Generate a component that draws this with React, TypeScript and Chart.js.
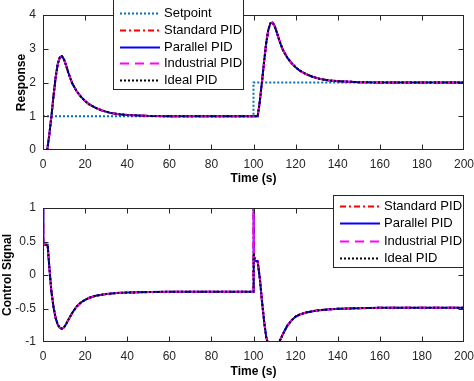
import React, { useEffect, useRef } from 'react';
import { Chart, registerables } from 'chart.js';

Chart.register(...registerables);

// ---------- data ----------
const timeTicks = [0, 20, 40, 60, 80, 100, 120, 140, 160, 180, 200];
const responseTicks = [0, 1, 2, 3, 4];
const controlTicks = [-1, -0.5, 0, 0.5, 1];

const setpointTime = [0, 100, 100, 200];
const setpointValues = [1, 1, 2, 2];

const respTime = [
  0, 2, 3, 4, 5, 6, 7, 8, 9, 10, 11, 12, 13, 14, 16, 18, 20, 22, 25, 28, 32, 36, 40, 50, 60, 80, 100,
  102, 103, 104, 105, 106, 107, 108, 109, 110, 111, 112, 113, 114, 116, 118, 120, 122, 125, 128, 132, 136, 140, 150, 160, 180, 200,
];
const respValues = [
  0, 0, 0.45, 1.0, 1.6, 2.15, 2.55, 2.75, 2.78, 2.68, 2.5, 2.3, 2.12, 1.96, 1.74, 1.58, 1.45, 1.35, 1.25, 1.17, 1.1, 1.06, 1.04, 1.01, 1.0, 1.0, 1.0,
  1.0, 1.45, 2.0, 2.6, 3.15, 3.55, 3.75, 3.78, 3.68, 3.5, 3.3, 3.12, 2.96, 2.74, 2.58, 2.45, 2.35, 2.25, 2.17, 2.1, 2.06, 2.04, 2.01, 2.0, 2.0, 2.0,
];

// control signal (Standard / Parallel / Industrial share the derivative kick)
const ctrlTime = [
  0, 0.2, 2.2, 3, 4, 5, 6, 7, 8, 9, 10, 11, 12, 14, 16, 18, 20, 22, 25, 30, 35, 40, 50, 60, 80, 100,
  100, 100.2, 102, 103, 104, 105, 106, 107, 108, 109, 110, 111, 112, 113, 114, 116, 118, 120, 122, 125, 130, 135, 140, 150, 160, 180, 200,
];
const ctrlValues = [
  1.2, 0.45, 0.45, 0.12, -0.25, -0.48, -0.64, -0.74, -0.79, -0.8, -0.78, -0.73, -0.67, -0.56, -0.47, -0.41, -0.37, -0.34, -0.31, -0.285, -0.27, -0.262, -0.255, -0.25, -0.25, -0.25,
  1.5, 0.22, 0.2, -0.05, -0.38, -0.68, -0.92, -1.04, -1.1, -1.12, -1.1, -1.06, -1.01, -0.95, -0.88, -0.76, -0.68, -0.62, -0.59, -0.56, -0.53, -0.515, -0.505, -0.495, -0.49, -0.49, -0.49,
];
const idealCtrlTime = [
  0, 0.05, 2.2, 3, 4, 5, 6, 7, 8, 9, 10, 11, 12, 14, 16, 18, 20, 22, 25, 30, 35, 40, 50, 60, 80, 100,
  100.05, 100.8, 102, 103, 104, 105, 106, 107, 108, 109, 110, 111, 112, 113, 114, 116, 118, 120, 122, 125, 130, 135, 140, 150, 160, 180, 200,
];
const idealCtrlValues = [
  0, 0.45, 0.45, 0.12, -0.25, -0.48, -0.64, -0.74, -0.79, -0.8, -0.78, -0.73, -0.67, -0.56, -0.47, -0.41, -0.37, -0.34, -0.31, -0.285, -0.27, -0.262, -0.255, -0.25, -0.25, -0.25,
  0.33, 0.24, 0.2, -0.05, -0.38, -0.68, -0.92, -1.04, -1.1, -1.12, -1.1, -1.06, -1.01, -0.95, -0.88, -0.76, -0.68, -0.62, -0.59, -0.56, -0.53, -0.515, -0.505, -0.495, -0.49, -0.49, -0.49,
];

// ---------- styling ----------
const AXIS = '#262626';
const FONT = '"Liberation Sans", Arial, Helvetica, sans-serif';

const pts = (xs: number[], ys: number[]) => xs.map((x, i) => ({ x, y: ys[i] }));

const series = {
  setpoint: { label: 'Setpoint', color: '#0072BD', dash: [2, 2], order: 5 },
  standard: { label: 'Standard PID', color: '#FF0000', dash: [6, 3, 2, 3], order: 4 },
  parallel: { label: 'Parallel PID', color: '#0000FF', dash: [] as number[], order: 3 },
  industrial: { label: 'Industrial PID', color: '#FF00FF', dash: [9, 6], order: 2 },
  ideal: { label: 'Ideal PID', color: '#000000', dash: [2, 2], order: 1 },
};

function ds(s: any, data: any[]) {
  return {
    label: s.label,
    data,
    borderColor: s.color,
    backgroundColor: s.color,
    borderWidth: 2,
    borderDash: s.dash,
    pointRadius: 0,
    fill: false,
    tension: 0,
    order: s.order,
  };
}

const boxPlugin = {
  id: 'matlabBox',
  afterDatasetsDraw(chart: any) {
    const { ctx, chartArea: a, scales } = chart;
    ctx.save();
    ctx.strokeStyle = AXIS;
    ctx.lineWidth = 1;
    ctx.setLineDash([]);
    const L = Math.round(a.left) + 0.5;
    const R = Math.round(a.right) - 0.5;
    const T = Math.round(a.top) + 0.5;
    const B = Math.round(a.bottom) - 0.5;
    ctx.strokeRect(L, T, R - L, B - T);
    const tl = 5;
    ctx.beginPath();
    const xs = scales.x;
    xs.ticks.forEach((t: any, i: number) => {
      if (i === 0 || i === xs.ticks.length - 1) return;
      const p = Math.round(xs.getPixelForValue(t.value)) + 0.5;
      ctx.moveTo(p, B); ctx.lineTo(p, B - tl);
      ctx.moveTo(p, T); ctx.lineTo(p, T + tl);
    });
    const ys = scales.y;
    ys.ticks.forEach((t: any, i: number) => {
      if (i === 0 || i === ys.ticks.length - 1) return;
      const p = Math.round(ys.getPixelForValue(t.value)) + 0.5;
      ctx.moveTo(L, p); ctx.lineTo(L + tl, p);
      ctx.moveTo(R, p); ctx.lineTo(R - tl, p);
    });
    ctx.stroke();
    ctx.restore();
  },
};

function legendPlugin(cfg: any) {
  return {
    id: 'boxLegend',
    afterDraw(chart: any) {
      const ctx = chart.ctx;
      ctx.save();
      ctx.setLineDash([]);
      ctx.fillStyle = '#ffffff';
      ctx.fillRect(cfg.x, cfg.y, cfg.w, cfg.h);
      ctx.strokeStyle = AXIS;
      ctx.lineWidth = 1;
      ctx.strokeRect(cfg.x + 0.5, cfg.y + 0.5, cfg.w - 1, cfg.h - 1);
      chart.data.datasets.forEach((d: any, i: number) => {
        const y = Math.round(cfg.rowY0 + i * cfg.rowGap) + 0.5;
        ctx.save();
        ctx.setLineDash(d.borderDash || []);
        ctx.strokeStyle = d.borderColor;
        ctx.lineWidth = d.borderWidth;
        ctx.beginPath();
        ctx.moveTo(cfg.lineX0, y);
        ctx.lineTo(cfg.lineX1, y);
        ctx.stroke();
        ctx.restore();
        ctx.fillStyle = '#000000';
        ctx.font = `13px ${FONT}`;
        ctx.textBaseline = 'middle';
        ctx.textAlign = 'left';
        ctx.fillText(d.label, cfg.textX, y);
      });
      ctx.restore();
    },
  };
}

function makeOptions(p: any) {
  const tickFont = { family: FONT, size: 12 };
  const titleFont = { family: FONT, size: 12, weight: 'bold' as const };
  const fmt = (v: any) => String(v);
  return {
    animation: false as const,
    responsive: false,
    devicePixelRatio: 1,
    events: [] as any[],
    layout: { padding: { top: p.padTop, right: 10, left: 0, bottom: 0 } },
    plugins: { legend: { display: false }, tooltip: { enabled: false } },
    scales: {
      x: {
        type: 'linear' as const,
        min: 0,
        max: 200,
        afterBuildTicks: (s: any) => { s.ticks = timeTicks.map((v) => ({ value: v })); },
        afterFit: (s: any) => { s.height = p.xHeight; s.paddingLeft = 0; s.paddingRight = 0; },
        grid: { display: false, drawTicks: false },
        border: { display: false },
        ticks: { padding: 7, color: AXIS, font: tickFont, maxRotation: 0, autoSkip: false, callback: fmt },
        title: { display: true, text: 'Time (s)', color: '#000', font: titleFont, padding: { top: 0, bottom: p.xTitlePad } },
      },
      y: {
        type: 'linear' as const,
        min: p.yMin,
        max: p.yMax,
        afterBuildTicks: (s: any) => { s.ticks = p.yTicks.map((v: number) => ({ value: v })); },
        afterFit: (s: any) => { s.width = 43; s.paddingTop = 0; s.paddingBottom = 0; },
        grid: { display: false, drawTicks: false },
        border: { display: false },
        ticks: { padding: 7, color: AXIS, font: tickFont, autoSkip: false, callback: fmt },
        title: { display: true, text: p.yTitle, color: '#000', font: titleFont, padding: { top: p.yTitlePad, bottom: 0 } },
      },
    },
  };
}

export default function App() {
  const topRef = useRef<HTMLCanvasElement>(null);
  const botRef = useRef<HTMLCanvasElement>(null);

  useEffect(() => {
    const top = new Chart(topRef.current!, {
      type: 'line',
      data: {
        datasets: [
          ds(series.setpoint, pts(setpointTime, setpointValues)),
          ds(series.standard, pts(respTime, respValues)),
          ds(series.parallel, pts(respTime, respValues)),
          ds(series.industrial, pts(respTime, respValues)),
          ds(series.ideal, pts(respTime, respValues)),
        ],
      },
      options: makeOptions({
        padTop: 15, xHeight: 40, xTitlePad: 3.8, yMin: 0, yMax: 4, yTicks: responseTicks,
        yTitle: 'Response', yTitlePad: 14.5,
      }) as any,
      plugins: [boxPlugin, legendPlugin({ x: 113, y: -2, w: 131, h: 92, rowY0: 13, rowGap: 16.8, lineX0: 120, lineX1: 160, textX: 164 })],
    });
    const bot = new Chart(botRef.current!, {
      type: 'line',
      data: {
        datasets: [
          ds(series.standard, pts(ctrlTime, ctrlValues)),
          ds(series.parallel, pts(ctrlTime, ctrlValues)),
          ds(series.industrial, pts(ctrlTime, ctrlValues)),
          ds(series.ideal, pts(idealCtrlTime, idealCtrlValues)),
        ],
      },
      options: makeOptions({
        padTop: 18, xHeight: 39, xTitlePad: 2.3, yMin: -1, yMax: 1, yTicks: controlTicks,
        yTitle: 'Control Signal', yTitlePad: 0,
      }) as any,
      plugins: [boxPlugin, legendPlugin({ x: 333, y: 5, w: 131, h: 73, rowY0: 16, rowGap: 17.4, lineX0: 340, lineX1: 380, textX: 384 })],
    });
    return () => { top.destroy(); bot.destroy(); };
  }, []);

  return (
    <div style={{ position: 'fixed', left: 0, top: 0, width: 474, height: 381, background: '#fff' }}>
      <canvas ref={topRef} width={474} height={190} style={{ position: 'absolute', left: 0, top: 0 }} />
      <canvas ref={botRef} width={474} height={191} style={{ position: 'absolute', left: 0, top: 190 }} />
    </div>
  );
}
